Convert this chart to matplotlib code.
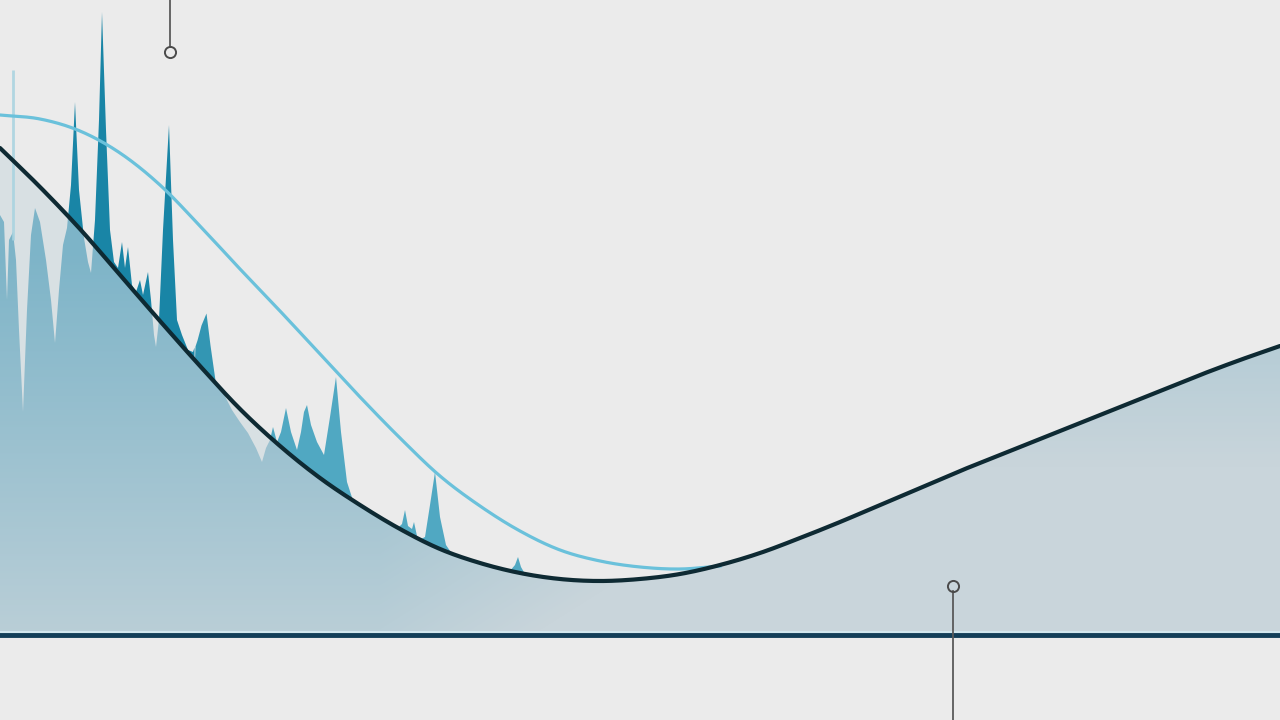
import numpy as np
import matplotlib
matplotlib.use("Agg")
import matplotlib.pyplot as plt
from matplotlib.patches import Polygon
from matplotlib.colors import to_rgb

# ---- data (pixel-space readings: x from left, y from top) ----
trend_x = [0, 40, 80, 120, 160, 200, 240, 280, 320, 360, 400, 440, 480, 520, 560, 600,
           640, 680, 720, 760, 800, 840, 880, 920, 960, 1000, 1040, 1080, 1120, 1160,
           1200, 1240, 1280]
trend_y = [148, 187, 229, 275, 321, 366, 409, 446, 478, 505, 529, 549, 563, 573, 579, 581,
           579, 574, 565, 553, 538, 522, 505, 488, 471, 455, 439, 423, 407, 391,
           375, 360, 346]

ref_x = [0, 40, 80, 120, 160, 200, 240, 280, 320, 360, 400, 440, 480, 520, 560, 600,
         640, 680, 720]
ref_y = [115, 119, 131, 153, 185, 226, 269, 311, 354, 397, 438, 476, 506, 531, 550, 561,
         567, 569, 566]

# jagged signal top (None = sits on the trend)
sig_x = [0, 4, 7, 9, 13, 16, 19, 23, 27, 31, 35, 40, 46, 51, 55, 59, 63, 67, 71, 75,
         79, 84, 88, 91, 95, 99, 102, 106, 110, 114, 118, 122, 125, 128, 132, 136,
         140, 143, 148, 151, 154, 156, 159, 163, 169, 173, 177, 182, 188, 193, 197,
         201, 206, 210, 215, 222, 232, 240, 248, 256, 262, 266, 270, 273, 277, 281,
         286, 291, 297, 301, 304, 307, 311, 317, 324, 330, 336, 341, 347, 353, 398,
         402, 405, 408, 412, 414, 417, 421, 425, 430, 435, 440, 446, 452, 510, 515,
         518, 521, 525, 1280]
sig_y = [215, 222, 300, 240, 232, 260, 330, 412, 310, 235, 208, 222, 260, 300, 343,
         290, 245, 228, 185, 102, 190, 238, 262, 273, 220, 120, 12, 130, 230, 262,
         268, 242, 268, 247, 285, 292, 280, 295, 272, 300, 335, 347, 320, 230, 125,
         240, 320, 335, 350, 352, 340, 325, 313, 345, 380, None, 410, 422, 433, 448,
         462, 448, 440, 427, 442, 432, 408, 432, 450, 432, 412, 405, 425, 442, 455,
         417, 377, 432, 482, None, None, 524, 510, 526, 529, 522, 536, 539, 537, 505,
         472, 517, 545, None, None, 565, 557, 567, None, None]

ghost_x = [13]
ghost_top = [70]
ghost_bottom = [240]

baseline_y = 635
pin_x = [170, 953]
pin_y = [52, 586]
pin_end = [0, 720]

W, H = 1280, 720
BG = "#ebebeb"


def smooth(xs, ys, n=24):
    pts = np.column_stack([xs, ys]).astype(float)
    P = np.vstack([2 * pts[0] - pts[1], pts, 2 * pts[-1] - pts[-2]])
    out = []
    t = np.linspace(0, 1, n, endpoint=False)[:, None]
    for i in range(1, len(P) - 2):
        p0, p1, p2, p3 = P[i - 1], P[i], P[i + 1], P[i + 2]
        out.append(0.5 * ((2 * p1) + (-p0 + p2) * t + (2 * p0 - 5 * p1 + 4 * p2 - p3) * t ** 2
                          + (-p0 + 3 * p1 - 3 * p2 + p3) * t ** 3))
    out.append(pts[-1:])
    return np.vstack(out)


fig = plt.figure(figsize=(12.8, 7.2), dpi=100, facecolor=BG)
ax = fig.add_axes([0, 0, 1, 1])
ax.set_facecolor(BG)
ax.set_xlim(0, W)
ax.set_ylim(H, 0)
ax.axis("off")

tr = smooth(trend_x, trend_y)
xd = np.linspace(0, W, 2561)
trend_d = np.interp(xd, tr[:, 0], tr[:, 1])

# signal deviations from trend
sx = np.array(sig_x, float)
trend_at = np.interp(sx, tr[:, 0], tr[:, 1])
sy = np.array([np.nan if v is None else v for v in sig_y], float)
sy = np.where(np.isnan(sy), trend_at, sy)
dev = np.interp(xd, sx, trend_at - sy)
sig_d = trend_d - dev

# gradient area under trend
gx, gy = np.meshgrid(np.arange(W) + 0.5, np.arange(H) + 0.5)
t = 0.8 * (gy - 250) / 385 + 0.55 * np.clip((gx - 380) / 420, 0, 1)
t = np.clip(t, 0, 1)[..., None]
c_blue = np.array(to_rgb("#7db4c8"))
c_gray = np.array(to_rgb("#c9d5db"))
img = c_blue * (1 - t) + c_gray * t
im = ax.imshow(img, extent=[0, W, H, 0], origin="upper", aspect="auto",
               interpolation="bilinear", zorder=1)
poly = np.vstack([np.column_stack([xd, trend_d]), [[W, baseline_y], [0, baseline_y]]])
clip = Polygon(poly, closed=True, facecolor="none", edgecolor="none")
ax.add_patch(clip)
im.set_clip_path(clip)

# pale notches where signal dips below trend
ax.fill_between(xd, trend_d, sig_d, where=sig_d > trend_d, interpolate=True,
                color="#d8e0e3", lw=0, zorder=2)

# spikes above trend
up = sig_d < trend_d
ax.fill_between(xd, trend_d, sig_d, where=up & (xd < 195), interpolate=True,
                color="#1985a6", lw=0, zorder=3)
ax.fill_between(xd, trend_d, sig_d, where=up & (xd >= 195) & (xd < 260), interpolate=True,
                color="#3396b3", lw=0, zorder=3)
ax.fill_between(xd, trend_d, sig_d, where=up & (xd >= 260), interpolate=True,
                color="#50a8c2", lw=0, zorder=3)

# faint ghost line
for gxv, gt, gb in zip(ghost_x, ghost_top, ghost_bottom):
    ax.plot([gxv, gxv], [gt, gb], color="#a7d3e0", lw=2, alpha=0.85,
            solid_capstyle="butt", zorder=2.5)

# reference curve (light blue)
rf = smooth(ref_x, ref_y)
ax.plot(rf[:, 0], rf[:, 1], color="#6ac1db", lw=2.3, zorder=4)

# trend curve
ax.plot(tr[:, 0], tr[:, 1], color="#0e2a33", lw=3, zorder=5, solid_capstyle="round")

# baseline
ax.axhline(baseline_y - 3.2, color="#d3e8ef", lw=1.4, zorder=5)
ax.axhline(baseline_y, color="#123e58", lw=3.5, zorder=6)

# pins
for px, py, pe in zip(pin_x, pin_y, pin_end):
    if pe < py:
        ax.plot([px, px], [pe, py - 5], color="#5a5a5a", lw=1.3, zorder=7)
    else:
        ax.plot([px, px], [py + 5, pe], color="#5a5a5a", lw=1.3, zorder=7)
    ax.plot([px], [py], marker="o", ms=8, mfc="none", mec="#4a4a4a", mew=1.4, zorder=8)

fig.savefig("out.png", dpi=100, facecolor=BG)
